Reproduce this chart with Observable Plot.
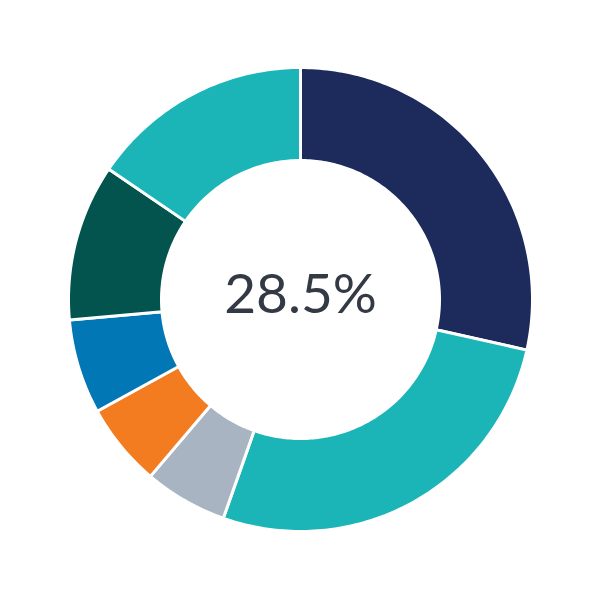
<!DOCTYPE html>
<html>
<head>
<meta charset="utf-8">
<script src="https://cdn.jsdelivr.net/npm/d3@7"></script>
<script src="https://cdn.jsdelivr.net/npm/@observablehq/plot@0.6"></script>
<style>
  html, body { margin: 0; padding: 0; background: #ffffff; }
  #chart { width: 600px; height: 600px; }
</style>
</head>
<body>
<div id="chart"></div>
<script>
// Data (share of total, %), clockwise from 12 o'clock
const categories = ["Segment 1", "Segment 2", "Segment 3", "Segment 4", "Segment 5", "Segment 6", "Segment 7"];
const values = [28.5, 26.9, 5.8, 5.8, 6.6, 10.9, 15.5];
const colors = ["#1c2b5b", "#1bb4b7", "#a9b4c2", "#f37c20", "#0277b6", "#03544f", "#1bb4b7"];
const centerLabel = "28.5%";

const outerR = 232, innerR = 139;

const pie = d3.pie().sort(null).value(d => d.value).startAngle(0).endAngle(2 * Math.PI);
const arcs = pie(categories.map((c, i) => ({category: c, value: values[i], color: colors[i]})));

// polygon outline of each ring slice in chart units (pixels), y up
const pts = [];
arcs.forEach(a => {
  const n = Math.max(8, Math.ceil((a.endAngle - a.startAngle) * 60));
  for (let k = 0; k <= n; k++) {
    const t = a.startAngle + (a.endAngle - a.startAngle) * k / n;
    pts.push({category: a.data.category, color: a.data.color, x: outerR * Math.sin(t), y: outerR * Math.cos(t)});
  }
  for (let k = n; k >= 0; k--) {
    const t = a.startAngle + (a.endAngle - a.startAngle) * k / n;
    pts.push({category: a.data.category, color: a.data.color, x: innerR * Math.sin(t), y: innerR * Math.cos(t)});
  }
});

const chart = Plot.plot({
  width: 600,
  height: 600,
  margin: 0,
  x: {domain: [-300, 300], axis: null},
  y: {domain: [-301, 299], axis: null},
  marks: [
    Plot.line(pts, {
      x: "x", y: "y", z: "category",
      fill: d => d.color,
      stroke: "#ffffff", strokeWidth: 3,
      curve: "linear-closed"
    }),
    Plot.text([centerLabel], {
      x: () => 0, y: () => 0,
      text: d => d,
      fontSize: 55,
      fontFamily: "Lato, 'Open Sans', sans-serif",
      fill: "#333a46",
      dy: -4
    })
  ]
});
document.getElementById("chart").appendChild(chart);
</script>
</body>
</html>
